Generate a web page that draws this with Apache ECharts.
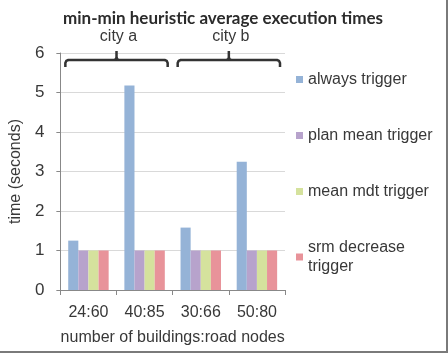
<!DOCTYPE html>
<html><head><meta charset="utf-8">
<script src="https://cdn.jsdelivr.net/npm/echarts@6/dist/echarts.min.js"></script>
<style>
html,body{margin:0;padding:0;background:#fff;}
#wrap{width:448px;height:353px;box-sizing:border-box;border-right:2px solid #7a7a7a;border-bottom:2px solid #7a7a7a;}
#c{width:446px;height:351px;}
</style></head>
<body><div id="wrap"><div id="c"></div></div>
<script>
const categories = ['24:60','40:85','30:66','50:80'];
const seriesNames = ['always trigger','plan mean trigger','mean mdt trigger','srm decrease\ntrigger'];
const alwaysTrigger = [1.25, 5.18, 1.58, 3.25];
const planMeanTrigger = [1, 1, 1, 1];
const meanMdtTrigger = [1, 1, 1, 1];
const srmDecreaseTrigger = [1, 1, 1, 1];
const groups = [{label:'city a', from:0, to:1},{label:'city b', from:2, to:3}];
const colors = ['#95B3D7','#B7A3CC','#D5E29D','#E8939A'];
const font = "'Liberation Sans', Arial, sans-serif";

const chart = echarts.init(document.getElementById('c'));
const values = [alwaysTrigger, planMeanTrigger, meanMdtTrigger, srmDecreaseTrigger];
chart.setOption({
  animation:false,
  title:{text:'min-min heuristic average execution times', left:'center', top:5,
    textStyle:{fontFamily:'Lato, sans-serif', fontWeight:'bold', fontSize:17, color:'#2b2b2b'}},
  grid:{left:52, right:161, top:53, bottom:61},
  legend:{orient:'vertical', left:291, top:65, itemWidth:7, itemHeight:7, itemGap:37, icon:'rect',
    textStyle:{fontFamily:font, fontSize:16, color:'#383838', lineHeight:19}},
  xAxis:{type:'category', data:categories,
    axisLine:{lineStyle:{color:'#888'}}, axisTick:{show:true, length:5, lineStyle:{color:'#888'}},
    axisLabel:{fontFamily:font, fontSize:16, color:'#383838', margin:15},
    name:'number of buildings:road nodes', nameLocation:'middle', nameGap:40,
    nameTextStyle:{fontFamily:font, fontSize:16, color:'#383838'}},
  yAxis:{type:'value', min:0, max:6, interval:1,
    axisLine:{show:true, lineStyle:{color:'#888'}}, axisTick:{show:true, length:4, lineStyle:{color:'#888'}},
    splitLine:{lineStyle:{color:'#d9d9d9'}},
    axisLabel:{fontFamily:font, fontSize:17, color:'#383838', margin:16},
    name:'time (seconds)', nameLocation:'middle', nameGap:33, nameRotate:90,
    nameTextStyle:{fontFamily:font, fontSize:16, color:'#383838'}},
  series: seriesNames.map((n,i)=>({name:n, type:'bar', data:values[i], barGap:'0%', barCategoryGap:'28%',
    itemStyle:{color:colors[i]}}))
});

function drawBrackets(){
  const els = [];
  const bw = chart.convertToPixel({xAxisIndex:0}, categories[1]) - chart.convertToPixel({xAxisIndex:0}, categories[0]);
  const yTop = chart.convertToPixel({yAxisIndex:0}, 6);
  groups.forEach(g=>{
    const x0 = chart.convertToPixel({xAxisIndex:0}, categories[g.from]) - bw/2 + 5;
    const x1 = chart.convertToPixel({xAxisIndex:0}, categories[g.to]) + bw/2 - 5;
    const xc = (x0+x1)/2;
    const yl = yTop + 7, yb = yTop + 14, ytip = yTop - 2;
    const side = (x, dir) => [[x, yb],[x, yl+3],[x+dir*0.9, yl+0.9],[x+dir*3, yl]];
    const left = side(x0, 1), right = side(x1, -1).reverse();
    els.push({type:'polyline', shape:{points:left.concat(right)}, style:{stroke:'#333', lineWidth:2.5, fill:null, lineJoin:'round'}});
    els.push({type:'polyline', shape:{points:[[xc-2,yl],[xc-0.5,yl-1],[xc,yl-2.5],[xc,ytip]]}, style:{stroke:'#333', lineWidth:2.5, fill:null}});
    els.push({type:'polyline', shape:{points:[[xc+2,yl],[xc+0.5,yl-1],[xc,yl-2.5]]}, style:{stroke:'#333', lineWidth:2.5, fill:null}});
    els.push({type:'text', x:xc+2, y:yTop-16, style:{text:g.label, font:'16px '+font, fill:'#383838', align:'center', verticalAlign:'middle'}});
  });
  chart.setOption({graphic:els});
}
drawBrackets();
</script></body></html>
